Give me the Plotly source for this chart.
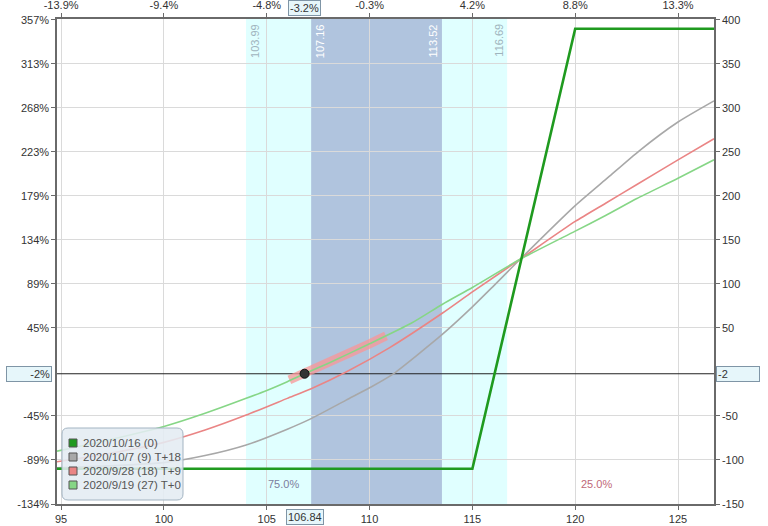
import plotly.graph_objects as go

# ---------------- data ----------------
x_min, x_max = 94.8, 126.75
y_min, y_max = -150, 401

cur_price = 106.84
cur_value = -2

exp_prices = [94.8, 115, 120, 126.75]
exp_values = [-110, -110, 390, 390]

t0_prices = [94.8, 97, 100, 102, 104, 105, 106, 106.84, 108, 110, 112, 113.55, 115, 117.32, 120, 121.5, 123, 125, 126.75]
t0_values = [-90, -79, -62, -47, -30, -21, -11, -2, 10, 32, 55, 77, 96, 128, 160, 178, 197, 220, 241]

t9_prices = [94.8, 97, 100, 102, 104, 106, 107.16, 108.86, 111, 113.55, 115, 117.32, 120, 121.5, 123, 125, 126.75]
t9_values = [-102, -94, -80, -66, -49, -30, -19, 0, 28, 67, 91, 128, 171, 192, 213, 241, 265]

t18_prices = [94.8, 97, 100, 102, 104, 106, 107.16, 108.86, 110, 111.1, 113.55, 115, 116, 117.32, 120, 121.6, 123.1, 125, 126.75]
t18_values = [-109, -107, -103, -95, -83, -65, -53, -32, -18, -3, 43, 74, 97, 128, 189, 221, 251, 284, 308]

hl_prices = [106.1, 107, 108, 109, 110, 110.8]
hl_values = [-9, 0, 10, 21, 32, 41]

band_outer = [103.99, 116.69]
band_inner = [107.16, 113.52]

legend_names = ["2020/10/16 (0)", "2020/10/7 (9) T+18", "2020/9/28 (18) T+9", "2020/9/19 (27) T+0"]

y_ticks = [400, 350, 300, 250, 200, 150, 100, 50, -50, -100, -150]
y_pct_labels = ["357%", "313%", "268%", "223%", "179%", "134%", "89%", "45%", "-45%", "-89%", "-134%"]
y_val_labels = ["400", "350", "300", "250", "200", "150", "100", "50", "-50", "-100", "-150"]

x_ticks = [95, 100, 105, 110, 115, 120, 125]
x_top_labels = ["-13.9%", "-9.4%", "-4.8%", "-0.3%", "4.2%", "8.8%", "13.3%"]

prob_left, prob_right = "75.0%", "25.0%"
cur_pct_label = "-3.2%"

# ---------------- styles ----------------
FONT = "Liberation Sans"
C_EXP = "#1f9a1f"
C_T18 = "#a8a8a8"
C_T9 = "#ea8585"
C_T0 = "#86d686"
legend_colors = [C_EXP, C_T18, C_T9, C_T0]

W, H = 768, 526
ML, MR, MT, MB = 57, 54, 19, 22
PW, PH = W - ML - MR, H - MT - MB

fig = go.Figure()

# bands
fig.add_shape(type="rect", xref="x", yref="paper", x0=band_outer[0], x1=band_outer[1], y0=0, y1=1,
              fillcolor="#e0ffff", line_width=0, layer="below")
fig.add_shape(type="rect", xref="x", yref="paper", x0=band_inner[0], x1=band_inner[1], y0=0, y1=1,
              fillcolor="#b0c4de", line_width=0, layer="below")

# current level line
fig.add_trace(go.Scatter(x=[x_min, x_max], y=[cur_value, cur_value], mode="lines",
                         line=dict(color="#222222", width=1.2), showlegend=False, hoverinfo="skip"))

spl = dict(shape="spline", smoothing=0.6)
fig.add_trace(go.Scatter(x=t18_prices, y=t18_values, mode="lines", line=dict(color=C_T18, width=1.6, **spl),
                         name=legend_names[1], showlegend=False))
fig.add_trace(go.Scatter(x=t9_prices, y=t9_values, mode="lines", line=dict(color=C_T9, width=1.6, **spl),
                         name=legend_names[2], showlegend=False))
fig.add_trace(go.Scatter(x=hl_prices, y=hl_values, mode="lines", line=dict(color="rgba(250,150,150,0.75)", width=9),
                         showlegend=False))
fig.add_trace(go.Scatter(x=t0_prices, y=t0_values, mode="lines", line=dict(color=C_T0, width=1.6, **spl),
                         name=legend_names[3], showlegend=False))
fig.add_trace(go.Scatter(x=exp_prices, y=exp_values, mode="lines", line=dict(color=C_EXP, width=2.6),
                         name=legend_names[0], showlegend=False))
fig.add_trace(go.Scatter(x=[cur_price], y=[cur_value], mode="markers",
                         marker=dict(color="#333333", size=9, line=dict(color="#111111", width=1)),
                         showlegend=False))

# invisible trace for secondary axes
fig.add_trace(go.Scatter(x=[cur_price], y=[cur_value], xaxis="x2", yaxis="y2", mode="markers",
                         marker=dict(opacity=0), showlegend=False, hoverinfo="skip"))

axis_common = dict(showline=True, linecolor="#6a6a6a", linewidth=1.5, ticks="outside", ticklen=4,
                   tickcolor="#6a6a6a", tickfont=dict(family=FONT, size=11, color="#333333"), zeroline=False,
                   automargin=False)

fig.update_layout(
    width=W, height=H,
    margin=dict(l=ML, r=MR, t=MT, b=MB),
    paper_bgcolor="white", plot_bgcolor="white",
    font=dict(family=FONT, size=11, color="#333333"),
    xaxis=dict(range=[x_min, x_max], tickvals=x_ticks, ticktext=[str(v) for v in x_ticks],
               showgrid=True, gridcolor="#dadada", gridwidth=1, **axis_common),
    xaxis2=dict(range=[x_min, x_max], overlaying="x", side="top", tickvals=x_ticks, ticktext=x_top_labels,
                showgrid=False, **axis_common),
    yaxis=dict(range=[y_min, y_max], tickvals=y_ticks, ticktext=y_pct_labels, showgrid=True,
               gridcolor="#dadada", gridwidth=1, **axis_common),
    yaxis2=dict(range=[y_min, y_max], overlaying="y", side="right", tickvals=y_ticks, ticktext=y_val_labels,
                showgrid=False, **axis_common),
    showlegend=False,
)

# ---- custom legend box (pixel layout converted to paper coords) ----
def px(xp):
    return (xp - ML) / PW

def py(yp):
    return (H - MB - yp) / PH

lx0, lx1, ly0, ly1, r = 62, 183, 428, 500, 6
path = (f"M {px(lx0 + r)},{py(ly0)} L {px(lx1 - r)},{py(ly0)} Q {px(lx1)},{py(ly0)} {px(lx1)},{py(ly0 + r)} "
        f"L {px(lx1)},{py(ly1 - r)} Q {px(lx1)},{py(ly1)} {px(lx1 - r)},{py(ly1)} "
        f"L {px(lx0 + r)},{py(ly1)} Q {px(lx0)},{py(ly1)} {px(lx0)},{py(ly1 - r)} "
        f"L {px(lx0)},{py(ly0 + r)} Q {px(lx0)},{py(ly0)} {px(lx0 + r)},{py(ly0)} Z")
fig.add_shape(type="path", xref="paper", yref="paper", path=path,
              fillcolor="rgba(228,236,242,0.88)", line=dict(color="#a3b4c2", width=1), layer="above")
row_y = [443, 457, 471, 485]
for name, col, yy in zip(legend_names, legend_colors, row_y):
    fig.add_shape(type="rect", xref="paper", yref="paper", x0=px(69), x1=px(77), y0=py(yy + 4), y1=py(yy - 4),
                  fillcolor=col, line=dict(color="#555555", width=1), layer="above")
    fig.add_annotation(x=px(81), y=py(yy), xref="paper", yref="paper", text=name, showarrow=False,
                       xanchor="left", yanchor="middle", font=dict(family=FONT, size=11.5, color="#555555"))

# band labels
band_label_specs = [(band_outer[0], "left", "#9fb4bd"), (band_inner[0], "left", "#ffffff"),
                    (band_inner[1], "right", "#ffffff"), (band_outer[1], "right", "#9fb4bd")]
for val, side, col in band_label_specs:
    fig.add_annotation(x=val, y=1, xref="x", yref="paper", text=f"{val:.2f}", textangle=-90, showarrow=False,
                       xanchor="left" if side == "left" else "right", yanchor="top", xshift=1 if side == "left" else -1,
                       yshift=-3, font=dict(family=FONT, size=11, color=col))

# probability labels
fig.add_annotation(x=105.8, y=py(492), xref="x", yref="paper", text=prob_left,
                   showarrow=False, font=dict(family=FONT, size=11, color="#7d7d9d"))
fig.add_annotation(x=121.05, y=py(492), xref="x", yref="paper", text=prob_right,
                   showarrow=False, font=dict(family=FONT, size=11, color="#c06878"))

box = dict(bgcolor="#e6f6fa", bordercolor="#7f95a6", borderwidth=1, borderpad=1)
# current-value boxes
fig.add_annotation(x=0, y=cur_value, xref="paper", yref="y", text="-2%", showarrow=False, xanchor="right",
                   xshift=-5, width=42, align="right", font=dict(family=FONT, size=11, color="#333333"), **box)
fig.add_annotation(x=1, y=cur_value, xref="paper", yref="y", text="-2", showarrow=False, xanchor="left",
                   xshift=2, width=40, align="left", font=dict(family=FONT, size=11, color="#333333"), **box)
fig.add_annotation(x=cur_price, y=1, xref="x", yref="paper", text=cur_pct_label, showarrow=False,
                   yanchor="bottom", yshift=3, font=dict(family=FONT, size=11, color="#333333"), **box)
fig.add_annotation(x=cur_price, y=0, xref="x", yref="paper", text=f"{cur_price:.2f}", showarrow=False,
                   yanchor="top", yshift=-5, font=dict(family=FONT, size=11, color="#333333"), **box)

fig.write_html("out.html", config={"displayModeBar": False},
               post_script="document.body.style.margin='0';document.body.style.overflow='hidden';")
